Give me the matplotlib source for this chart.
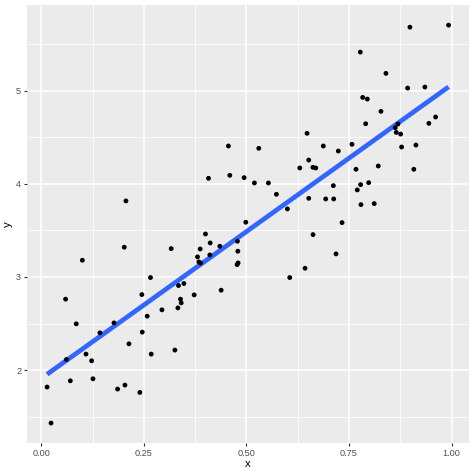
import numpy as np
import matplotlib
matplotlib.use('Agg')
import matplotlib.pyplot as plt

plt.rcParams['font.family'] = ['Liberation Sans', 'DejaVu Sans']

# points
x = [0.0139, 0.0236, 0.059, 0.061, 0.0706, 0.085, 0.0998, 0.1088, 0.1225, 0.1258,
     0.1428, 0.177, 0.1858, 0.2021, 0.2037, 0.2135, 0.240, 0.245, 0.2459, 0.258,
     0.266, 0.2678, 0.2939, 0.3165, 0.3255, 0.3328, 0.3343, 0.3392, 0.3409, 0.3474,
     0.3725, 0.3806, 0.384, 0.388, 0.3871, 0.4115, 0.4107, 0.4351, 0.4383, 0.478,
     0.479, 0.4772, 0.4796, 0.6623, 0.7183, 0.6428, 0.6055, 0.456, 0.4074, 0.4594,
     0.2062, 0.4001, 0.8985, 0.9927, 0.7775, 0.840, 0.8929, 0.9350, 0.7833, 0.7946,
     0.8279, 0.9611, 0.9447, 0.7906, 0.8627, 0.8692, 0.8652, 0.8758, 0.9131, 0.8782,
     0.6477, 0.5300, 0.6873, 0.7572, 0.7239, 0.4943, 0.5194, 0.5535, 0.573, 0.5998,
     0.4984, 0.6518, 0.630, 0.662, 0.6689, 0.6518, 0.6932, 0.7127, 0.7118, 0.7330,
     0.7670, 0.7783, 0.7702, 0.7979, 0.7791, 0.8115, 0.8213, 0.9080]
y = [1.818, 1.431, 2.762, 2.114, 1.885, 2.497, 3.180, 2.172, 2.100, 1.907,
     2.400, 2.507, 1.796, 3.320, 1.839, 2.282, 1.760, 2.811, 2.408, 2.579,
     2.994, 2.172, 2.647, 3.305, 2.215, 2.668, 2.908, 2.762, 2.722, 2.930,
     2.808, 3.216, 3.162, 3.150, 3.301, 3.366, 3.237, 3.330, 2.858, 3.384,
     3.277, 3.133, 3.151, 3.455, 3.248, 3.094, 2.994, 4.407, 4.060, 4.092,
     3.817, 3.462, 5.683, 5.705, 5.415, 5.187, 5.029, 5.040, 4.929, 4.911,
     4.779, 4.718, 4.650, 4.646, 4.603, 4.643, 4.553, 4.535, 4.417, 4.396,
     4.543, 4.382, 4.407, 4.425, 4.353, 4.067, 4.010, 4.010, 3.888, 3.731,
     3.588, 4.256, 4.171, 4.178, 4.171, 3.845, 3.838, 3.838, 3.981, 3.584,
     4.157, 3.992, 3.935, 4.013, 3.777, 3.788, 4.192, 4.157]

x = np.array(x)
y = np.array(y)

fig = plt.figure(figsize=(4.74, 4.74), dpi=100)
ax = fig.add_axes([0.057, 0.0654, 0.932, 0.9236])
ax.set_facecolor('#EBEBEB')

# regression line, lm style
slope, icpt = np.polyfit(x, y, 1)
xs = np.array([x.min(), x.max()])
ax.plot(xs, icpt + slope * xs, color='#3366FF', lw=3.4, zorder=3, solid_capstyle='butt')
ax.scatter(x, y, s=12, c='black', edgecolor='none', zorder=4)

ax.set_xlim(-0.035, 1.042)
ax.set_ylim(1.217, 5.919)
ax.set_xticks([0, 0.25, 0.5, 0.75, 1.0])
ax.set_xticklabels(['0.00', '0.25', '0.50', '0.75', '1.00'])
ax.set_yticks([2, 3, 4, 5])
ax.set_xticks([0.125, 0.375, 0.625, 0.875], minor=True)
ax.set_yticks([1.5, 2.5, 3.5, 4.5, 5.5], minor=True)
ax.grid(which='major', color='white', lw=1.1)
ax.grid(which='minor', color='white', lw=0.55)
ax.set_axisbelow(True)
for s in ax.spines.values():
    s.set_visible(False)
ax.tick_params(which='major', length=2.2, width=0.8, color='#333333',
               labelsize=6.6, labelcolor='#4D4D4D', pad=2)
ax.tick_params(which='minor', length=0)
ax.set_xlabel('x', fontsize=8.2, va='center')
ax.set_ylabel('y', fontsize=8.2, va='center')
ax.xaxis.set_label_coords(0.5, -0.047)
ax.yaxis.set_label_coords(-0.043, 0.5)

fig.savefig('out.png', dpi=100)
